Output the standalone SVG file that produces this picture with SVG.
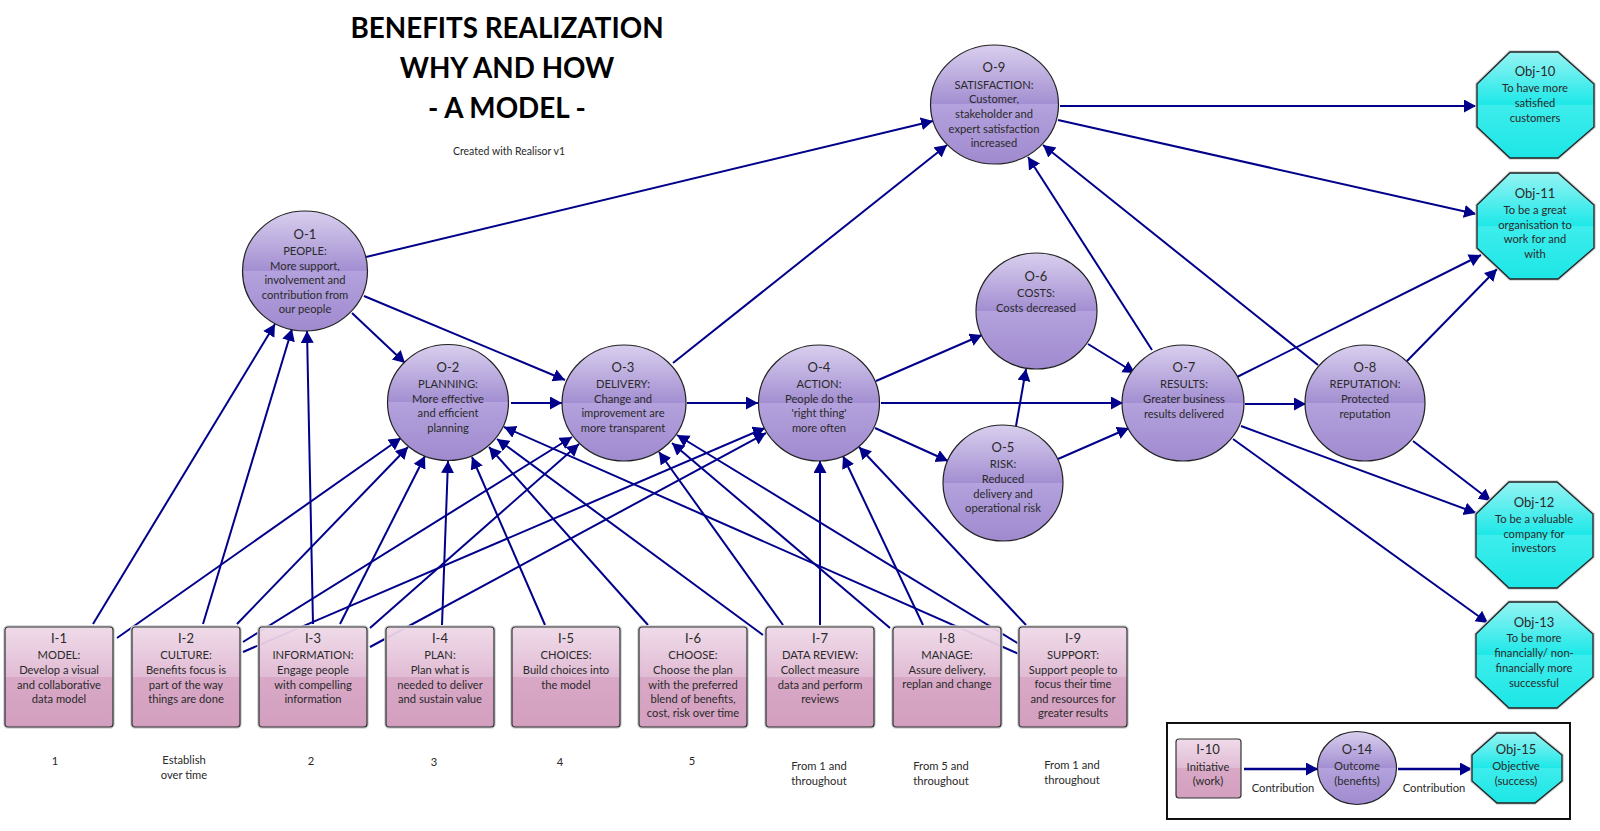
<svg xmlns="http://www.w3.org/2000/svg" width="1600" height="831" viewBox="0 0 1600 831">
<style>
text{font-family:"Lato","Liberation Sans",sans-serif;font-size:11.2px;fill:#2a2a2a;text-anchor:middle}
.h{font-size:13px}
.t{font-size:27.8px;font-weight:700;fill:#000}
.s{font-size:10.5px}
.c{stroke:#00008b;stroke-width:2;fill:none;marker-end:url(#a)}
.w{stroke-width:2.6}
.o{fill:url(#go);stroke:#222;stroke-width:1.2}
.i{fill:url(#gi);fill-opacity:.95;stroke:#333;stroke-width:1.2}
.b{fill:url(#gb);stroke:#222;stroke-width:1.3}
.h1{fill:none;stroke:#cfd3d3;stroke-width:3.6}
</style>
<defs>
<marker id="a" markerUnits="userSpaceOnUse" markerWidth="14" markerHeight="14" refX="12" refY="6.5" orient="auto"><path d="M0,0L12,6.5L0,13z" fill="#00008b"/></marker>
<linearGradient id="go" x1="0" y1="0" x2="0" y2="1"><stop offset="0" stop-color="#d9cfee"/><stop offset=".5" stop-color="#a28ed1"/><stop offset=".5" stop-color="#b3a2dd"/><stop offset="1" stop-color="#a08acf"/></linearGradient>
<linearGradient id="gi" x1="0" y1="0" x2="0" y2="1"><stop offset="0" stop-color="#efd9e8"/><stop offset=".5" stop-color="#dfb8d2"/><stop offset=".5" stop-color="#d6a4c3"/><stop offset="1" stop-color="#d19abc"/></linearGradient>
<linearGradient id="gb" x1="0" y1="0" x2="0" y2="1"><stop offset="0" stop-color="#95f3f3"/><stop offset=".5" stop-color="#1de8e8"/><stop offset=".5" stop-color="#3dedec"/><stop offset="1" stop-color="#1de6e6"/></linearGradient>
<rect id="box" width="108" height="100" rx="3"/>
<path id="oct" d="M33,0H81L117,32V75L81,106H33L0,75V32z"/>
</defs>

<g id="title">
<text class="t" x="507" y="38">BENEFITS REALIZATION</text>
<text class="t" x="507" y="78">WHY AND HOW</text>
<text class="t" x="507" y="118">- A MODEL -</text>
<text class="s" x="509" y="155">Created with Realisor  v1</text>
</g>

<g id="connectors">
<line class="c" x1="366" y1="257" x2="933" y2="121"/>
<line class="c" x1="673" y1="363" x2="947" y2="145"/>
<line class="c" x1="1060" y1="106" x2="1476" y2="106"/>
<line class="c" x1="1058" y1="120" x2="1476" y2="214"/>
<line class="c" x1="352" y1="313" x2="405" y2="363"/>
<line class="c" x1="364" y1="296" x2="565" y2="380"/>
<line class="c" x1="511" y1="403" x2="562" y2="403"/>
<line class="c" x1="687" y1="403" x2="758" y2="403"/>
<line class="c" x1="881" y1="403" x2="1123" y2="403"/>
<line class="c" x1="876" y1="381" x2="982" y2="335"/>
<line class="c" x1="875" y1="428" x2="948" y2="461"/>
<line class="c" x1="1016" y1="426" x2="1026" y2="369"/>
<line class="c" x1="1058" y1="459" x2="1129" y2="428"/>
<line class="c" x1="1088" y1="344" x2="1135" y2="373"/>
<line class="c" x1="1245" y1="404" x2="1306" y2="404"/>
<line class="c" x1="1152" y1="350" x2="1028" y2="157"/>
<line class="c" x1="1318" y1="365" x2="1043" y2="145"/>
<line class="c" x1="1237" y1="377" x2="1481" y2="255"/>
<line class="c" x1="1407" y1="361" x2="1497" y2="269"/>
<line class="c" x1="1413" y1="441" x2="1491" y2="501"/>
<line class="c" x1="1241" y1="426" x2="1476" y2="513"/>
<line class="c" x1="1233" y1="439" x2="1488" y2="623"/>
<line class="c" x1="93" y1="624" x2="275" y2="324"/>
<line class="c" x1="117" y1="638" x2="401" y2="438"/>
<line class="c" x1="203" y1="624" x2="292" y2="329"/>
<line class="c" x1="237" y1="624" x2="408" y2="447"/>
<line class="c" x1="243" y1="642" x2="572" y2="437"/>
<line class="c" x1="243" y1="652" x2="765" y2="428"/>
<line class="c" x1="313" y1="624" x2="307" y2="331"/>
<line class="c" x1="340" y1="624" x2="425" y2="456"/>
<line class="c" x1="370" y1="628" x2="579" y2="444"/>
<line class="c" x1="370" y1="647" x2="766" y2="433"/>
<line class="c" x1="442" y1="625" x2="448" y2="461"/>
<line class="c" x1="545" y1="625" x2="472" y2="457"/>
<line class="c" x1="648" y1="625" x2="489" y2="447"/>
<line class="c" x1="763" y1="635" x2="497" y2="439"/>
<line class="c" x1="1019" y1="654" x2="504" y2="427"/>
<line class="c" x1="783" y1="625" x2="659" y2="452"/>
<line class="c" x1="890" y1="628" x2="672" y2="443"/>
<line class="c" x1="1019" y1="644" x2="677" y2="435"/>
<line class="c" x1="820" y1="625" x2="820" y2="461"/>
<line class="c" x1="923" y1="625" x2="843" y2="456"/>
<line class="c" x1="1026" y1="625" x2="859" y2="447"/>
<line class="c w" x1="1244" y1="769" x2="1318" y2="769"/>
<line class="c w" x1="1398" y1="769" x2="1472" y2="769"/>
</g>

<g id="I-1"><use href="#box" x="5" y="627" class="h1"/><use href="#box" x="5" y="627" class="i"/><text class="h" x="59" y="643">I-1</text><text x="59" y="659">MODEL:</text><text x="59" y="674">Develop a visual</text><text x="59" y="689">and collaborative</text><text x="59" y="703">data model</text></g>
<g id="I-2"><use href="#box" x="132" y="627" class="h1"/><use href="#box" x="132" y="627" class="i"/><text class="h" x="186" y="643">I-2</text><text x="186" y="659">CULTURE:</text><text x="186" y="674">Benefits focus is</text><text x="186" y="689">part of the way</text><text x="186" y="703">things are done</text></g>
<g id="I-3"><use href="#box" x="259" y="627" class="h1"/><use href="#box" x="259" y="627" class="i"/><text class="h" x="313" y="643">I-3</text><text x="313" y="659">INFORMATION:</text><text x="313" y="674">Engage people</text><text x="313" y="689">with compelling</text><text x="313" y="703">information</text></g>
<g id="I-4"><use href="#box" x="386" y="627" class="h1"/><use href="#box" x="386" y="627" class="i"/><text class="h" x="440" y="643">I-4</text><text x="440" y="659">PLAN:</text><text x="440" y="674">Plan what is</text><text x="440" y="689">needed to deliver</text><text x="440" y="703">and sustain value</text></g>
<g id="I-5"><use href="#box" x="512" y="627" class="h1"/><use href="#box" x="512" y="627" class="i"/><text class="h" x="566" y="643">I-5</text><text x="566" y="659">CHOICES:</text><text x="566" y="674">Build choices into</text><text x="566" y="689">the model</text></g>
<g id="I-6"><use href="#box" x="639" y="627" class="h1"/><use href="#box" x="639" y="627" class="i"/><text class="h" x="693" y="643">I-6</text><text x="693" y="659">CHOOSE:</text><text x="693" y="674">Choose the plan</text><text x="693" y="689">with the preferred</text><text x="693" y="703">blend of benefits,</text><text x="693" y="717">cost, risk over time</text></g>
<g id="I-7"><use href="#box" x="766" y="627" class="h1"/><use href="#box" x="766" y="627" class="i"/><text class="h" x="820" y="643">I-7</text><text x="820" y="659">DATA REVIEW:</text><text x="820" y="674">Collect measure</text><text x="820" y="689">data and perform</text><text x="820" y="703">reviews</text></g>
<g id="I-8"><use href="#box" x="893" y="627" class="h1"/><use href="#box" x="893" y="627" class="i"/><text class="h" x="947" y="643">I-8</text><text x="947" y="659">MANAGE:</text><text x="947" y="674">Assure delivery,</text><text x="947" y="688">replan and change</text></g>
<g id="I-9"><use href="#box" x="1019" y="627" class="h1"/><use href="#box" x="1019" y="627" class="i"/><text class="h" x="1073" y="643">I-9</text><text x="1073" y="659">SUPPORT:</text><text x="1073" y="674">Support people to</text><text x="1073" y="688">focus their time</text><text x="1073" y="703">and resources for</text><text x="1073" y="717">greater results</text></g>

<g id="O-1"><ellipse class="o" cx="305" cy="271" rx="62.5" ry="60"/><text class="h" x="305" y="239">O-1</text><text x="305" y="255">PEOPLE:</text><text x="305" y="270">More support,</text><text x="305" y="284">involvement and</text><text x="305" y="299">contribution from</text><text x="305" y="313">our people</text></g>
<g id="O-2"><ellipse class="o" cx="448" cy="402.5" rx="60.5" ry="58"/><text class="h" x="448" y="372">O-2</text><text x="448" y="388">PLANNING:</text><text x="448" y="403">More effective</text><text x="448" y="417">and efficient</text><text x="448" y="432">planning</text></g>
<g id="O-3"><ellipse class="o" cx="624" cy="403" rx="62" ry="58"/><text class="h" x="623" y="372">O-3</text><text x="623" y="388">DELIVERY:</text><text x="623" y="403">Change and</text><text x="623" y="417">improvement are</text><text x="623" y="432">more transparent</text></g>
<g id="O-4"><ellipse class="o" cx="819" cy="403" rx="60.5" ry="58"/><text class="h" x="819" y="372">O-4</text><text x="819" y="388">ACTION:</text><text x="819" y="403">People do the</text><text x="819" y="417">'right thing'</text><text x="819" y="432">more often</text></g>
<g id="O-5"><ellipse class="o" cx="1003" cy="483" rx="60" ry="58"/><text class="h" x="1003" y="452">O-5</text><text x="1003" y="468">RISK:</text><text x="1003" y="483">Reduced</text><text x="1003" y="498">delivery and</text><text x="1003" y="512">operational risk</text></g>
<g id="O-6"><ellipse class="o" cx="1036.5" cy="311" rx="60.5" ry="58"/><text class="h" x="1036" y="281">O-6</text><text x="1036" y="297">COSTS:</text><text x="1036" y="312">Costs decreased</text></g>
<g id="O-7"><ellipse class="o" cx="1183" cy="403" rx="61" ry="58"/><text class="h" x="1184" y="372">O-7</text><text x="1184" y="388">RESULTS:</text><text x="1184" y="403">Greater business</text><text x="1184" y="418">results delivered</text></g>
<g id="O-8"><ellipse class="o" cx="1365" cy="403" rx="60" ry="58"/><text class="h" x="1365" y="372">O-8</text><text x="1365" y="388">REPUTATION:</text><text x="1365" y="403">Protected</text><text x="1365" y="418">reputation</text></g>
<g id="O-9"><ellipse class="o" cx="994.5" cy="104.5" rx="64" ry="59.5"/><text class="h" x="994" y="72">O-9</text><text x="994" y="89">SATISFACTION:</text><text x="994" y="103">Customer,</text><text x="994" y="118">stakeholder and</text><text x="994" y="133">expert satisfaction</text><text x="994" y="147">increased</text></g>

<g id="Obj-10"><use href="#oct" x="1477" y="52" class="h1"/><use href="#oct" x="1477" y="52" class="b"/><text class="h" x="1535" y="76">Obj-10</text><text x="1535" y="92">To have more</text><text x="1535" y="107">satisfied</text><text x="1535" y="122">customers</text></g>
<g id="Obj-11"><use href="#oct" x="1477" y="173" class="h1"/><use href="#oct" x="1477" y="173" class="b"/><text class="h" x="1535" y="198">Obj-11</text><text x="1535" y="214">To be a great</text><text x="1535" y="229">organisation to</text><text x="1535" y="243">work for and</text><text x="1535" y="258">with</text></g>
<g id="Obj-12"><use href="#oct" x="1476" y="482" class="h1"/><use href="#oct" x="1476" y="482" class="b"/><text class="h" x="1534" y="507">Obj-12</text><text x="1534" y="523">To be a valuable</text><text x="1534" y="538">company for</text><text x="1534" y="552">investors</text></g>
<g id="Obj-13"><use href="#oct" x="1476" y="602" class="h1"/><use href="#oct" x="1476" y="602" class="b"/><text class="h" x="1534" y="627">Obj-13</text><text x="1534" y="642">To be more</text><text x="1534" y="657">financially/ non-</text><text x="1534" y="672">financially more</text><text x="1534" y="687">successful</text></g>

<g id="timing">
<text x="55" y="765">1</text>
<text x="184" y="764">Establish</text><text x="184" y="779">over time</text>
<text x="311" y="765">2</text>
<text x="434" y="766">3</text>
<text x="560" y="766">4</text>
<text x="692" y="765">5</text>
<text x="819" y="770">From 1 and</text><text x="819" y="785">throughout</text>
<text x="941" y="770">From 5 and</text><text x="941" y="785">throughout</text>
<text x="1072" y="769">From 1 and</text><text x="1072" y="784">throughout</text>
</g>

<g id="legend">
<rect x="1167" y="723" width="403" height="96" fill="none" stroke="#111" stroke-width="2"/>
<text x="1283" y="792">Contribution</text>
<text x="1434" y="792">Contribution</text>
</g>
<g id="I-10"><rect class="i" x="1176" y="739" width="65" height="59" rx="3"/><text class="h" x="1208" y="754">I-10</text><text x="1208" y="771">Initiative</text><text x="1208" y="785">(work)</text></g>
<g id="O-14"><ellipse class="o" cx="1357" cy="768" rx="39.5" ry="36.5"/><text class="h" x="1357" y="754">O-14</text><text x="1357" y="770">Outcome</text><text x="1357" y="785">(benefits)</text></g>
<g id="Obj-15"><path class="h1" d="M1497,733H1535L1562,755V781L1535,803H1497L1472,781V755z"/><path class="b" d="M1497,733H1535L1562,755V781L1535,803H1497L1472,781V755z"/><text class="h" x="1516" y="754">Obj-15</text><text x="1516" y="770">Objective</text><text x="1516" y="785">(success)</text></g>
</svg>
